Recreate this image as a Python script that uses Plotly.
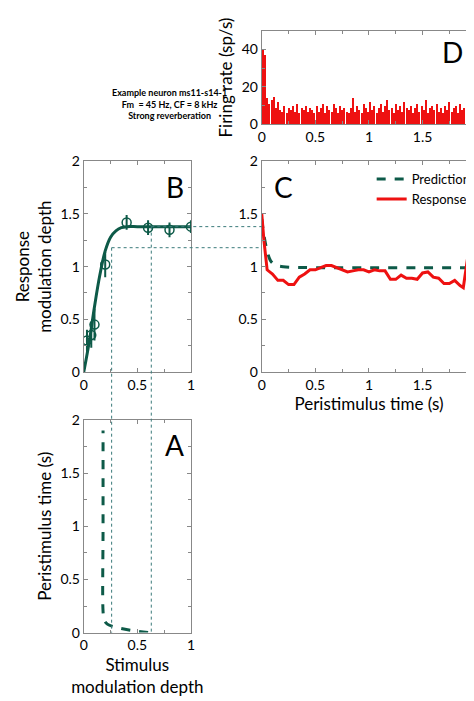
import plotly.graph_objects as go

# panel D: PSTH, 0.02 s bins
psth_rate = [40, 37, 14, 11, 13, 15, 9, 12, 8, 7, 10, 6, 9, 8, 10, 7, 11, 6, 9, 8,
             10, 7, 9, 8, 6, 10, 7, 9, 11, 6, 10, 8, 7, 11, 9, 6, 10, 8, 9, 7,
             6, 9, 14, 7, 10, 8, 6, 11, 9, 7, 12, 8, 10, 6, 9, 11, 7, 10, 13, 8,
             9, 6, 11, 8, 10, 7, 12, 9, 8, 10, 6, 9, 11, 7, 10, 8, 13, 6, 9, 10,
             8, 11, 7, 9, 6, 10, 8, 12, 7, 9, 10, 6, 11, 8, 9, 7, 15, 6, 12, 13]
psth_t = [0.01 + 0.02 * i for i in range(len(psth_rate))]

# panel B: measured points and fit
stim_depth = [0.03, 0.07, 0.1, 0.2, 0.4, 0.6, 0.8, 1.0]
resp_depth = [0.3, 0.35, 0.45, 1.02, 1.42, 1.37, 1.35, 1.38]
resp_err = [0.1, 0.12, 0.15, 0.12, 0.07, 0.07, 0.07, 0.06]
fit_x = [0, 0.05, 0.1, 0.15, 0.2, 0.25, 0.3, 0.35, 0.4, 0.5, 0.6, 1.0]
fit_y = [0, 0.28, 0.62, 0.92, 1.15, 1.28, 1.34, 1.37, 1.38, 1.38, 1.38, 1.38]

# panel C
resp_t = [0, 0.02, 0.05, 0.1, 0.15, 0.2, 0.25, 0.3, 0.35, 0.4, 0.45, 0.5, 0.55, 0.6,
          0.65, 0.7, 0.75, 0.8, 0.85, 0.9, 0.95, 1.0, 1.05, 1.1, 1.15, 1.2, 1.25,
          1.3, 1.35, 1.4, 1.45, 1.5, 1.55, 1.6, 1.65, 1.7, 1.75, 1.8, 1.85, 1.88, 1.92]
resp_md = [1.5, 1.25, 0.97, 0.93, 0.87, 0.87, 0.83, 0.83, 0.9, 0.93, 0.97, 0.97, 0.99,
           1.01, 1.01, 0.99, 0.97, 0.95, 0.96, 0.97, 0.97, 0.95, 0.97, 0.96, 0.96,
           0.88, 0.88, 0.92, 0.89, 0.89, 0.88, 0.94, 0.95, 0.9, 0.89, 0.84, 0.84,
           0.87, 0.82, 0.8, 1.08]
pred_t = [0, 0.02, 0.05, 0.08, 0.12, 0.2, 0.5, 1.0, 1.5, 1.9]
pred_md = [1.45, 1.3, 1.15, 1.06, 1.02, 1.0, 0.99, 0.99, 0.99, 0.99]

# panel A: stimulus depth over time
stimA_x = [0.6, 0.45, 0.3, 0.22, 0.19, 0.18, 0.18, 0.18]
stimA_t = [0, 0.02, 0.05, 0.08, 0.12, 0.2, 1.0, 1.9]

green = '#0d5a48'
red = '#ee1111'
dom_x1 = [0.154, 0.384]
dom_x2 = [0.536, 0.996]
dom_D = [0.843, 0.980]
dom_B = [0.481, 0.789]
dom_A = [0.100, 0.411]

fig = go.Figure()
fig.add_trace(go.Bar(x=psth_t, y=psth_rate, width=0.012, marker_color=red,
                     marker_line_width=0, xaxis='x4', yaxis='y4', showlegend=False))
fig.add_trace(go.Scatter(x=fit_x, y=fit_y, mode='lines', line=dict(color=green, width=3, shape='spline'),
                         xaxis='x2', yaxis='y2', showlegend=False))
fig.add_trace(go.Scatter(x=stim_depth, y=resp_depth, mode='markers',
                         marker=dict(symbol='circle-open', size=9, color=green, line=dict(width=1.5)),
                         error_y=dict(array=resp_err, color=green, thickness=2, width=0),
                         xaxis='x2', yaxis='y2', showlegend=False))
fig.add_trace(go.Scatter(x=pred_t, y=pred_md, mode='lines', name='Prediction',
                         line=dict(color=green, width=3, dash='dash', shape='spline'),
                         xaxis='x3', yaxis='y3'))
fig.add_trace(go.Scatter(x=resp_t, y=resp_md, mode='lines', name='Response',
                         line=dict(color=red, width=3), xaxis='x3', yaxis='y3'))
fig.add_trace(go.Scatter(x=stimA_x, y=stimA_t, mode='lines',
                         line=dict(color=green, width=3, dash='dash', shape='spline'),
                         xaxis='x', yaxis='y', showlegend=False))

ax = dict(showline=True, mirror='ticks', linecolor='#888', linewidth=1, ticks='inside',
          tickcolor='#888', ticklen=4, showgrid=False, zeroline=False,
          tickfont=dict(size=14, color='black'), title_font=dict(size=17, color='black'),
          minor=dict(ticks='inside', ticklen=3, tickcolor='#888', showgrid=False))

fig.update_layout(
    width=474, height=701, margin=dict(l=0, r=0, t=0, b=0),
    plot_bgcolor='white', paper_bgcolor='white', font=dict(family='Lato', color='black'),
    xaxis=dict(ax, domain=dom_x1, anchor='y', range=[0, 1], dtick=0.5, minor_dtick=0.25,
               title=dict(text='Stimulus<br>modulation depth', standoff=6)),
    yaxis=dict(ax, domain=dom_A, anchor='x', range=[0, 2], dtick=0.5, minor_dtick=0.25,
               title=dict(text='Peristimulus time (s)', standoff=4)),
    xaxis2=dict(ax, domain=dom_x1, anchor='y2', range=[0, 1], dtick=0.5, minor_dtick=0.25),
    yaxis2=dict(ax, domain=dom_B, anchor='x2', range=[0, 2], dtick=0.5, minor_dtick=0.25,
                title=dict(text='Response<br>modulation depth', standoff=4)),
    xaxis3=dict(ax, domain=dom_x2, anchor='y3', range=[0, 2], dtick=0.5, minor_dtick=0.25,
                title=dict(text='Peristimulus time (s)', standoff=6)),
    yaxis3=dict(ax, domain=dom_B, anchor='x3', range=[0, 2], dtick=0.5, minor_dtick=0.25),
    xaxis4=dict(ax, domain=dom_x2, anchor='y4', range=[0, 2], dtick=0.5, minor_dtick=0.25),
    yaxis4=dict(ax, domain=dom_D, anchor='x4', range=[0, 50], dtick=20, minor_dtick=10,
                title=dict(text='Firing rate (sp/s)', standoff=4)),
    bargap=0,
    legend=dict(x=0.995, y=0.785, xanchor='right', yanchor='top', bgcolor='rgba(0,0,0,0)',
                font=dict(size=13)),
)

for letter, xr, yr in [('D', 'x4', 'y4'), ('B', 'x2', 'y2'), ('C', 'x3', 'y3'), ('A', 'x', 'y')]:
    xpos, xanc = (0.05, 'left') if letter == 'C' else (0.95, 'right')
    fig.add_annotation(text=letter, xref=xr + ' domain', yref=yr + ' domain', x=xpos, y=0.97,
                       xanchor=xanc, yanchor='top', showarrow=False, font=dict(size=28))

fig.add_annotation(text='<b>Example neuron ms11-s14-1<br>Fm  = 45 Hz, CF = 8 kHz<br>Strong reverberation</b>',
                   xref='paper', yref='paper', x=0.21, y=0.90, showarrow=False, font=dict(size=9))

# dotted guide lines linking B to A and C
def py_B(v):
    return dom_B[0] + v / 2 * (dom_B[1] - dom_B[0])

def px_B(v):
    return dom_x1[0] + v * (dom_x1[1] - dom_x1[0])

dot = dict(color='#3a7a7a', width=1, dash='dot')
for xv, yv in [(0.26, 1.18), (0.63, 1.38)]:
    fig.add_shape(type='line', xref='paper', yref='paper', x0=px_B(xv), x1=px_B(xv),
                  y0=py_B(yv), y1=dom_A[0], line=dot)
    fig.add_shape(type='line', xref='paper', yref='paper', x0=px_B(xv), x1=dom_x2[0],
                  y0=py_B(yv), y1=py_B(yv), line=dot)

fig.write_html('out.html')
